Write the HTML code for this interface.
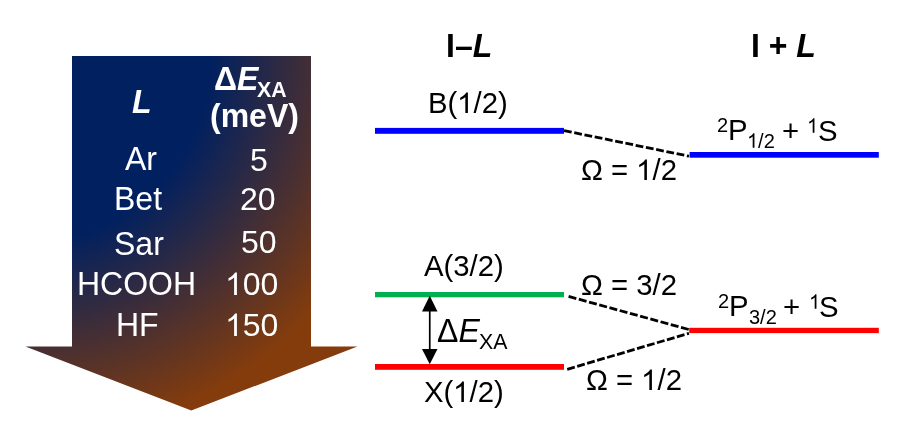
<!DOCTYPE html>
<html><head><meta charset="utf-8">
<style>
html,body{margin:0;padding:0;background:#fff;}
body{width:901px;height:439px;position:relative;overflow:hidden;}
svg.bg{position:absolute;left:0;top:0;}
.t{position:absolute;will-change:transform;}
</style></head><body>
<svg class="bg" width="901" height="439" viewBox="0 0 901 439">
<defs>
<radialGradient id="g" gradientUnits="userSpaceOnUse" cx="25.4" cy="56" r="384">
<stop offset="0.479" stop-color="#002060"/>
<stop offset="1" stop-color="#843C0C"/>
</radialGradient>
</defs>
<polygon points="72,56 311,56 311,346.4 357.5,346.4 191.3,410.6 25.4,346.4 72,346.4" fill="url(#g)"/>
<rect x="375" y="127.9" width="189" height="5.9" fill="#0000ff"/>
<rect x="689.6" y="152" width="189.2" height="5.7" fill="#0000ff"/>
<rect x="375" y="292" width="189" height="5.3" fill="#00b050"/>
<rect x="375" y="364" width="189" height="5.8" fill="#ff0000"/>
<rect x="689.2" y="327.8" width="189.6" height="5.3" fill="#ff0000"/>
<g stroke="#000" stroke-width="2.8" fill="none">
<line x1="564" y1="130.6" x2="689" y2="156.2" stroke-dasharray="7.8 2.65"/>
<line x1="568.6" y1="296.4" x2="689" y2="329.6" stroke-dasharray="8 2.6"/>
<line x1="567.2" y1="369.3" x2="689" y2="333.3" stroke-dasharray="7.9 2.5"/>
</g>
<rect x="428.9" y="310" width="1.7" height="40" fill="#000"/>
<polygon points="429.75,295.8 437.5,311.6 422,311.6" fill="#000"/>
<polygon points="429.75,364.2 437.5,348.9 422,348.9" fill="#000"/>
</svg>
<div class="t" style="left:445.80px;top:28.55px;font-family:'Liberation Sans', sans-serif;font-size:32px;font-weight:bold;font-style:normal;line-height:32px;white-space:pre;transform:scaleY(1.03);transform-origin:0 0;color:#000">I–<i>L</i></div>
<div class="t" style="left:751.40px;top:28.70px;font-family:'Liberation Sans', sans-serif;font-size:32px;font-weight:bold;font-style:normal;line-height:32px;white-space:pre;transform:scaleY(1.03);transform-origin:0 0;color:#000">I + <i>L</i></div>
<div class="t" style="left:428.00px;top:88.35px;font-family:'Liberation Sans', sans-serif;font-size:29.3px;font-weight:normal;font-style:normal;line-height:29.3px;white-space:pre;transform:scaleY(1.0);transform-origin:0 0;color:#000">B(<svg style="width:0.5562em;height:0.7324em;vertical-align:baseline;display:inline-block" viewBox="0 0 1139 1500"><path transform="translate(0,1500) scale(1,-1)" fill="currentColor" d="M763,0L583,0L583,1147Q518,1085 412.5,1023Q307,961 224,930L224,1104Q375,1175 481.5,1270Q588,1365 647,1466L763,1466Z"/></svg>/2)</div>
<div class="t" style="left:424.00px;top:251.35px;font-family:'Liberation Sans', sans-serif;font-size:29.3px;font-weight:normal;font-style:normal;line-height:29.3px;white-space:pre;transform:scaleY(1.0);transform-origin:0 0;color:#000">A(3/2)</div>
<div class="t" style="left:423.60px;top:376.50px;font-family:'Liberation Sans', sans-serif;font-size:29.3px;font-weight:normal;font-style:normal;line-height:29.3px;white-space:pre;transform:scaleY(1.0);transform-origin:0 0;color:#000">X(<svg style="width:0.5562em;height:0.7324em;vertical-align:baseline;display:inline-block" viewBox="0 0 1139 1500"><path transform="translate(0,1500) scale(1,-1)" fill="currentColor" d="M763,0L583,0L583,1147Q518,1085 412.5,1023Q307,961 224,930L224,1104Q375,1175 481.5,1270Q588,1365 647,1466L763,1466Z"/></svg>/2)</div>
<div class="t" style="left:580.95px;top:154.65px;font-family:'Liberation Sans', sans-serif;font-size:29.3px;font-weight:normal;font-style:normal;line-height:29.3px;white-space:pre;transform:scaleY(1.0);transform-origin:0 0;color:#000">Ω = <svg style="width:0.5562em;height:0.7324em;vertical-align:baseline;display:inline-block" viewBox="0 0 1139 1500"><path transform="translate(0,1500) scale(1,-1)" fill="currentColor" d="M763,0L583,0L583,1147Q518,1085 412.5,1023Q307,961 224,930L224,1104Q375,1175 481.5,1270Q588,1365 647,1466L763,1466Z"/></svg>/2</div>
<div class="t" style="left:580.75px;top:269.60px;font-family:'Liberation Sans', sans-serif;font-size:29.3px;font-weight:normal;font-style:normal;line-height:29.3px;white-space:pre;transform:scaleY(1.0);transform-origin:0 0;color:#000">Ω = 3/2</div>
<div class="t" style="left:586.20px;top:364.90px;font-family:'Liberation Sans', sans-serif;font-size:29.3px;font-weight:normal;font-style:normal;line-height:29.3px;white-space:pre;transform:scaleY(1.0);transform-origin:0 0;color:#000">Ω = <svg style="width:0.5562em;height:0.7324em;vertical-align:baseline;display:inline-block" viewBox="0 0 1139 1500"><path transform="translate(0,1500) scale(1,-1)" fill="currentColor" d="M763,0L583,0L583,1147Q518,1085 412.5,1023Q307,961 224,930L224,1104Q375,1175 481.5,1270Q588,1365 647,1466L763,1466Z"/></svg>/2</div>
<div class="t" style="left:716.95px;top:115.35px;font-family:'Liberation Sans', sans-serif;font-size:20px;font-weight:normal;font-style:normal;line-height:20px;white-space:pre;transform:scaleY(1.0);transform-origin:0 0;color:#000">2</div>
<div class="t" style="left:727.95px;top:115.20px;font-family:'Liberation Sans', sans-serif;font-size:29.3px;font-weight:normal;font-style:normal;line-height:29.3px;white-space:pre;transform:scaleY(1.0);transform-origin:0 0;color:#000">P</div>
<div class="t" style="left:747.40px;top:131.20px;font-family:'Liberation Sans', sans-serif;font-size:20px;font-weight:normal;font-style:normal;line-height:20px;white-space:pre;transform:scaleY(1.0);transform-origin:0 0;color:#000"><svg style="width:0.5562em;height:0.7324em;vertical-align:baseline;display:inline-block" viewBox="0 0 1139 1500"><path transform="translate(0,1500) scale(1,-1)" fill="currentColor" d="M763,0L583,0L583,1147Q518,1085 412.5,1023Q307,961 224,930L224,1104Q375,1175 481.5,1270Q588,1365 647,1466L763,1466Z"/></svg>/2</div>
<div class="t" style="left:782.30px;top:116.35px;font-family:'Liberation Sans', sans-serif;font-size:29.3px;font-weight:normal;font-style:normal;line-height:29.3px;white-space:pre;transform:scaleY(1.0);transform-origin:0 0;color:#000">+</div>
<div class="t" style="left:807.35px;top:115.70px;font-family:'Liberation Sans', sans-serif;font-size:20px;font-weight:normal;font-style:normal;line-height:20px;white-space:pre;transform:scaleY(1.0);transform-origin:0 0;color:#000"><svg style="width:0.5562em;height:0.7324em;vertical-align:baseline;display:inline-block" viewBox="0 0 1139 1500"><path transform="translate(0,1500) scale(1,-1)" fill="currentColor" d="M763,0L583,0L583,1147Q518,1085 412.5,1023Q307,961 224,930L224,1104Q375,1175 481.5,1270Q588,1365 647,1466L763,1466Z"/></svg></div>
<div class="t" style="left:817.50px;top:115.70px;font-family:'Liberation Sans', sans-serif;font-size:29.3px;font-weight:normal;font-style:normal;line-height:29.3px;white-space:pre;transform:scaleY(1.0);transform-origin:0 0;color:#000">S</div>
<div class="t" style="left:718.15px;top:291.20px;font-family:'Liberation Sans', sans-serif;font-size:20px;font-weight:normal;font-style:normal;line-height:20px;white-space:pre;transform:scaleY(1.0);transform-origin:0 0;color:#000">2</div>
<div class="t" style="left:729.05px;top:291.35px;font-family:'Liberation Sans', sans-serif;font-size:29.3px;font-weight:normal;font-style:normal;line-height:29.3px;white-space:pre;transform:scaleY(1.0);transform-origin:0 0;color:#000">P</div>
<div class="t" style="left:748.50px;top:306.55px;font-family:'Liberation Sans', sans-serif;font-size:20px;font-weight:normal;font-style:normal;line-height:20px;white-space:pre;transform:scaleY(1.0);transform-origin:0 0;color:#000">3/2</div>
<div class="t" style="left:783.30px;top:292.00px;font-family:'Liberation Sans', sans-serif;font-size:29.3px;font-weight:normal;font-style:normal;line-height:29.3px;white-space:pre;transform:scaleY(1.0);transform-origin:0 0;color:#000">+</div>
<div class="t" style="left:808.55px;top:291.70px;font-family:'Liberation Sans', sans-serif;font-size:20px;font-weight:normal;font-style:normal;line-height:20px;white-space:pre;transform:scaleY(1.0);transform-origin:0 0;color:#000"><svg style="width:0.5562em;height:0.7324em;vertical-align:baseline;display:inline-block" viewBox="0 0 1139 1500"><path transform="translate(0,1500) scale(1,-1)" fill="currentColor" d="M763,0L583,0L583,1147Q518,1085 412.5,1023Q307,961 224,930L224,1104Q375,1175 481.5,1270Q588,1365 647,1466L763,1466Z"/></svg></div>
<div class="t" style="left:818.80px;top:291.70px;font-family:'Liberation Sans', sans-serif;font-size:29.3px;font-weight:normal;font-style:normal;line-height:29.3px;white-space:pre;transform:scaleY(1.0);transform-origin:0 0;color:#000">S</div>
<div class="t" style="left:436.80px;top:313.85px;font-family:'Liberation Sans', sans-serif;font-size:32px;font-weight:normal;font-style:normal;line-height:32px;white-space:pre;transform:scaleY(1.03);transform-origin:0 0;color:#000">Δ<i>E</i></div>
<div class="t" style="left:479.25px;top:332.10px;font-family:'Liberation Sans', sans-serif;font-size:21.3px;font-weight:normal;font-style:normal;line-height:21.3px;white-space:pre;transform:scaleY(1.0);transform-origin:0 0;color:#000">XA</div>
<div class="t" style="left:131.55px;top:84.55px;font-family:'Liberation Sans', sans-serif;font-size:32px;font-weight:bold;font-style:normal;line-height:32px;white-space:pre;transform:scaleY(1.03);transform-origin:0 0;color:#fff"><i>L</i></div>
<div class="t" style="left:213.85px;top:62.15px;font-family:'Liberation Sans', sans-serif;font-size:32px;font-weight:bold;font-style:normal;line-height:32px;white-space:pre;transform:scaleY(1.03);transform-origin:0 0;color:#fff">Δ<i>E</i></div>
<div class="t" style="left:256.90px;top:80.10px;font-family:'Liberation Sans', sans-serif;font-size:21.3px;font-weight:bold;font-style:normal;line-height:21.3px;white-space:pre;transform:scaleY(1.0);transform-origin:0 0;color:#fff">XA</div>
<div class="t" style="left:209.90px;top:99.00px;font-family:'Liberation Sans', sans-serif;font-size:32px;font-weight:bold;font-style:normal;line-height:32px;white-space:pre;transform:scaleY(1.03);transform-origin:0 0;color:#fff">(meV)</div>
<div class="t" style="left:125.25px;top:142.05px;font-family:'Liberation Sans', sans-serif;font-size:32px;font-weight:normal;font-style:normal;line-height:32px;white-space:pre;transform:scaleY(1.03);transform-origin:0 0;color:#fff">Ar</div>
<div class="t" style="left:250.40px;top:144.25px;font-family:'Liberation Sans', sans-serif;font-size:32px;font-weight:normal;font-style:normal;line-height:32px;white-space:pre;transform:scaleY(1.0);transform-origin:0 0;color:#fff">5</div>
<div class="t" style="left:113.55px;top:182.30px;font-family:'Liberation Sans', sans-serif;font-size:32px;font-weight:normal;font-style:normal;line-height:32px;white-space:pre;transform:scaleY(1.03);transform-origin:0 0;color:#fff">Bet</div>
<div class="t" style="left:239.80px;top:183.30px;font-family:'Liberation Sans', sans-serif;font-size:32px;font-weight:normal;font-style:normal;line-height:32px;white-space:pre;transform:scaleY(1.0);transform-origin:0 0;color:#fff">20</div>
<div class="t" style="left:114.25px;top:227.45px;font-family:'Liberation Sans', sans-serif;font-size:32px;font-weight:normal;font-style:normal;line-height:32px;white-space:pre;transform:scaleY(1.03);transform-origin:0 0;color:#fff">Sar</div>
<div class="t" style="left:240.70px;top:225.65px;font-family:'Liberation Sans', sans-serif;font-size:32px;font-weight:normal;font-style:normal;line-height:32px;white-space:pre;transform:scaleY(1.0);transform-origin:0 0;color:#fff">50</div>
<div class="t" style="left:76.50px;top:267.05px;font-family:'Liberation Sans', sans-serif;font-size:32px;font-weight:normal;font-style:normal;line-height:32px;white-space:pre;transform:scaleY(1.03);transform-origin:0 0;color:#fff">HCOOH</div>
<div class="t" style="left:225.15px;top:267.95px;font-family:'Liberation Sans', sans-serif;font-size:32px;font-weight:normal;font-style:normal;line-height:32px;white-space:pre;transform:scaleY(1.0);transform-origin:0 0;color:#fff"><svg style="width:0.5562em;height:0.7324em;vertical-align:baseline;display:inline-block" viewBox="0 0 1139 1500"><path transform="translate(0,1500) scale(1,-1)" fill="currentColor" d="M763,0L583,0L583,1147Q518,1085 412.5,1023Q307,961 224,930L224,1104Q375,1175 481.5,1270Q588,1365 647,1466L763,1466Z"/></svg>00</div>
<div class="t" style="left:115.80px;top:307.80px;font-family:'Liberation Sans', sans-serif;font-size:32px;font-weight:normal;font-style:normal;line-height:32px;white-space:pre;transform:scaleY(1.03);transform-origin:0 0;color:#fff">HF</div>
<div class="t" style="left:225.15px;top:308.85px;font-family:'Liberation Sans', sans-serif;font-size:32px;font-weight:normal;font-style:normal;line-height:32px;white-space:pre;transform:scaleY(1.0);transform-origin:0 0;color:#fff"><svg style="width:0.5562em;height:0.7324em;vertical-align:baseline;display:inline-block" viewBox="0 0 1139 1500"><path transform="translate(0,1500) scale(1,-1)" fill="currentColor" d="M763,0L583,0L583,1147Q518,1085 412.5,1023Q307,961 224,930L224,1104Q375,1175 481.5,1270Q588,1365 647,1466L763,1466Z"/></svg>50</div>
</body></html>
